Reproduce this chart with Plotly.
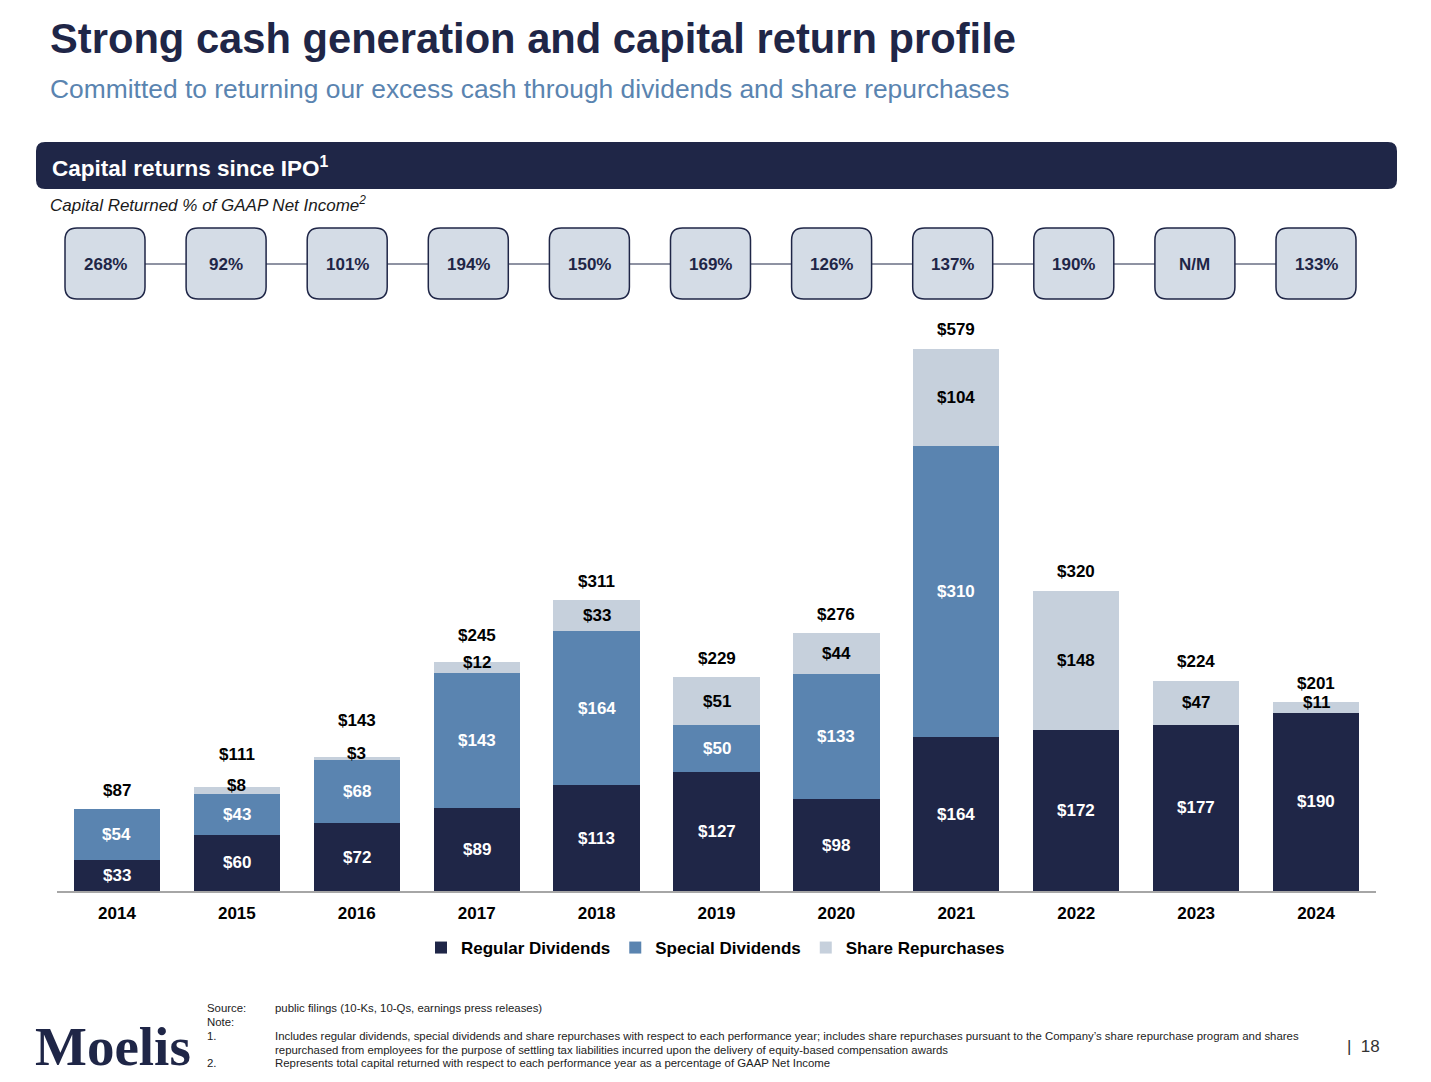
import plotly.graph_objects as go

# ---------------- data ----------------
years = ["2014", "2015", "2016", "2017", "2018", "2019", "2020", "2021", "2022", "2023", "2024"]
regular_dividends = [33, 60, 72, 89, 113, 127, 98, 164, 172, 177, 190]
special_dividends = [54, 43, 68, 143, 164, 50, 133, 310, 0, 0, 0]
share_repurchases = [0, 8, 3, 12, 33, 51, 44, 104, 148, 47, 11]
totals = [87, 111, 143, 245, 311, 229, 276, 579, 320, 224, 201]
pct_of_net_income = ["268%", "92%", "101%", "194%", "150%", "169%", "126%", "137%", "190%", "N/M", "133%"]

# ---------------- style ----------------
W, H = 1431, 1082
NAVY = "#1F2647"
SPECIAL = "#5A84B0"
REPURCH = "#C6D0DC"
BOXFILL = "#D4DCE6"
FONT = "Liberation Sans, Arial, sans-serif"
TOTAL_LIFT_DEFAULT = 19
TOTAL_LIFT = {"2015": 32, "2016": 36, "2017": 27}   # extra room above thin top segments
PAD = 2  # annotation inner padding compensation


def px(x):
    return x / W


def py(y):
    return 1 - y / H


def rrect(x0, y0, x1, y1, r):
    pts = [
        ("M", [(x0 + r, y0)]),
        ("L", [(x1 - r, y0)]),
        ("Q", [(x1, y0), (x1, y0 + r)]),
        ("L", [(x1, y1 - r)]),
        ("Q", [(x1, y1), (x1 - r, y1)]),
        ("L", [(x0 + r, y1)]),
        ("Q", [(x0, y1), (x0, y1 - r)]),
        ("L", [(x0, y0 + r)]),
        ("Q", [(x0, y0), (x0 + r, y0)]),
    ]
    s = ""
    for cmd, ps in pts:
        s += cmd + " ".join(f"{px(a):.6f},{py(b):.6f}" for a, b in ps) + " "
    return s + "Z"


def paper_text(x, y, text, size, color, anchor="left", **fontkw):
    if anchor == "left":
        x = x - PAD
    return dict(x=px(x), y=py(y), xref="paper", yref="paper", xanchor=anchor, yanchor="middle",
                text=text, showarrow=False,
                font=dict(family=fontkw.pop("family", FONT), size=size, color=color, **fontkw))


fig = go.Figure()
fig.add_trace(go.Bar(x=years, y=regular_dividends, name="Regular Dividends",
                     marker=dict(color=NAVY, line=dict(width=0))))
fig.add_trace(go.Bar(x=years, y=special_dividends, name="Special Dividends",
                     marker=dict(color=SPECIAL, line=dict(width=0))))
fig.add_trace(go.Bar(x=years, y=share_repurchases, name="Share Repurchases",
                     marker=dict(color=REPURCH, line=dict(width=0))))

annotations = []
shapes = []

# segment labels
for i, yr in enumerate(years):
    base = 0
    for vals, col in ((regular_dividends, "white"), (special_dividends, "white"), (share_repurchases, "black")):
        v = vals[i]
        if v > 0:
            small = v < 15
            annotations.append(dict(
                x=i, y=base + v / 2, xref="x", yref="y", text=f"${v}", showarrow=False,
                xanchor="center", yanchor="middle", yshift=5 if small else 0,
                font=dict(family=FONT, size=17, color="black" if small else col, weight="bold")))
        base += v
    annotations.append(dict(
        x=i, y=base, xref="x", yref="y", text=f"${totals[i]}", showarrow=False,
        xanchor="center", yanchor="middle", yshift=TOTAL_LIFT.get(yr, TOTAL_LIFT_DEFAULT),
        font=dict(family=FONT, size=17, color="black", weight="bold")))

# title / subtitle
annotations.append(paper_text(50, 38.5, "Strong cash generation and capital return profile", 41.7, NAVY,
                              weight="bold"))
annotations.append(paper_text(50, 89.5,
                              "Committed to returning our excess cash through dividends and share repurchases",
                              26.4, "#5A84B0"))

# banner
shapes.append(dict(type="path", path=rrect(36, 142, 1397, 189, 9), xref="paper", yref="paper",
                   fillcolor=NAVY, line=dict(width=0), layer="below"))
annotations.append(paper_text(52, 166.5, "Capital returns since IPO<sup>1</sup>", 22.5, "white", weight="bold"))
annotations.append(paper_text(50, 204, "Capital Returned % of GAAP Net Income<sup>2</sup>", 17, "#1a1a1a",
                              style="italic"))

# percent boxes
box_x0, box_step, box_w, box_top, box_bot = 105, 121.1, 80, 228, 299
centers = [box_x0 + k * box_step for k in range(len(pct_of_net_income))]
shapes.append(dict(type="line", xref="paper", yref="paper", x0=px(centers[0]), x1=px(centers[-1]),
                   y0=py(264), y1=py(264), line=dict(color=NAVY, width=1), layer="below"))
for c, lab in zip(centers, pct_of_net_income):
    shapes.append(dict(type="path", path=rrect(c - box_w / 2, box_top, c + box_w / 2, box_bot, 12),
                       xref="paper", yref="paper", fillcolor=BOXFILL, line=dict(color=NAVY, width=1.5)))
    annotations.append(paper_text(c, 264, lab, 17, NAVY, anchor="center", weight="bold"))

# footer
fs = 11.4
foot_color = "#222222"
foot = [
    (207, 1008, "Source:"), (275, 1008, "public filings (10-Ks, 10-Qs, earnings press releases)"),
    (207, 1022, "Note:"),
    (207, 1036, "1."),
    (275, 1036, "Includes regular dividends, special dividends and share repurchases with respect to each performance year; "
                "includes share repurchases pursuant to the Company\u2019s share repurchase program and shares"),
    (275, 1050, "repurchased from employees for the purpose of settling tax liabilities incurred upon the delivery of equity-based compensation awards"),
    (207, 1063, "2."),
    (275, 1063, "Represents total capital returned with respect to each performance year as a percentage of GAAP Net Income"),
]
for x, y, t in foot:
    annotations.append(paper_text(x, y, t, fs, foot_color))

annotations.append(paper_text(35, 1046, "Moelis", 55, NAVY,
                              family="Liberation Serif, Times New Roman, serif", weight="bold"))
annotations.append(paper_text(1347, 1046, "|  18", 17, "#333333"))

fig.update_layout(
    width=W, height=H,
    margin=dict(l=0, r=0, t=0, b=0, autoexpand=False),
    paper_bgcolor="white", plot_bgcolor="white",
    barmode="stack", bargap=0.28,
    font=dict(family=FONT, color="black"),
    xaxis=dict(domain=[px(57), px(1376)], type="category", range=[-0.5, 10.5], autorange=False,
               automargin=False, showline=True, linecolor="#A6A6A6", linewidth=2,
               showgrid=False, ticks="", ticklabelstandoff=6, zeroline=False,
               tickfont=dict(family=FONT, size=17, color="black", weight="bold"), fixedrange=True),
    yaxis=dict(domain=[py(891), py(309.4)], range=[0, 620], autorange=False, automargin=False,
               visible=False, showgrid=False, zeroline=False, fixedrange=True),
    legend=dict(orientation="h", x=0.5, xanchor="center", y=py(948), yanchor="middle", traceorder="normal",
                font=dict(family=FONT, size=17, color="black", weight="bold"), itemwidth=30,
                bgcolor="rgba(0,0,0,0)"),
    showlegend=True,
    annotations=annotations,
    shapes=shapes,
)

fig.write_html("out.html")
